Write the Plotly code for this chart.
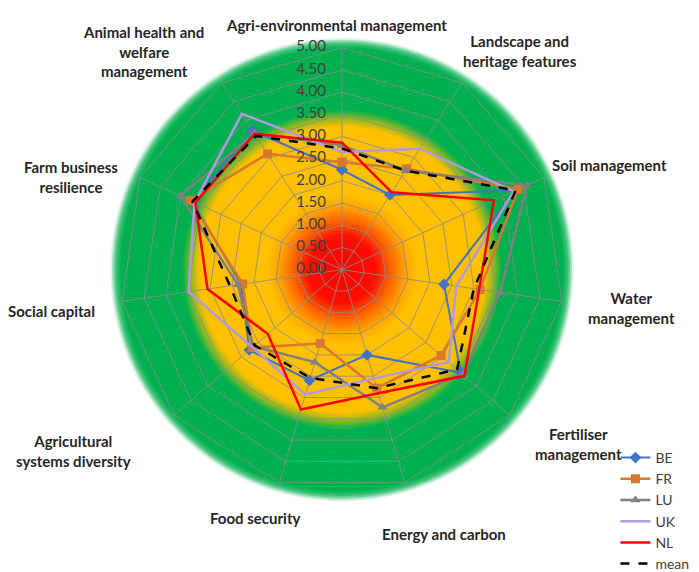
import plotly.graph_objects as go

categories = ["Agri-environmental management", "Landscape and heritage features", "Soil management",
              "Water management", "Fertiliser management", "Energy and carbon", "Food security",
              "Agricultural systems diversity", "Social capital", "Farm business resilience",
              "Animal health and welfare management"]
be = [2.25, 2.00, 4.30, 2.32, 3.54, 2.00, 2.60, 2.76, 2.30, 3.70, 3.72]
fr = [2.42, 2.70, 4.36, 3.14, 2.95, 2.78, 1.73, 2.68, 2.26, 3.76, 3.10]
lu = [2.80, 2.65, 4.58, 3.60, 3.60, 3.23, 2.17, 2.64, 2.37, 4.00, 3.65]
uk = [2.65, 3.24, 4.25, 2.60, 3.18, 2.55, 2.93, 2.67, 3.49, 3.65, 4.17]
nl = [2.86, 2.07, 3.76, 3.12, 3.65, 2.90, 3.28, 2.21, 3.06, 3.63, 3.64]
mean = [2.73, 2.65, 4.30, 3.00, 3.43, 2.78, 2.54, 2.60, 2.55, 3.70, 3.58]
radial_ticks = [0, 0.5, 1, 1.5, 2, 2.5, 3, 3.5, 4, 4.5, 5]

# category label text as displayed
label_text = ["Agri-environmental management", "Landscape and<br>heritage features", "Soil management",
              "Water<br>management", "Fertiliser<br>management", "Energy and carbon", "Food security",
              "Agricultural<br>systems diversity", "Social capital", "Farm business<br>resilience",
              "Animal health and<br>welfare<br>management"]
label_pos = [(328, 17), (512, 43), (601, 158), (623, 303), (570, 440), (436, 531), (247, 514),
             (65, 447), (43, 306), (63, 170), (135, 44)]

W, H = 699, 572
CX, CY, R5 = 334, 264, 224
RMAX_BG = 5.22
FONT = "Lato, 'Open Sans', Arial, sans-serif"


def px(x):
    return x / W


def py(y):
    return 1 - y / H


# gradient background colour stops (style only)
stops = [(0.0, (255, 0, 0)), (0.75, (255, 12, 0)), (1.1, (255, 100, 0)), (1.45, (255, 168, 0)),
         (1.7, (255, 192, 0)), (3.22, (255, 192, 0)), (3.4, (150, 185, 30)), (3.6, (0, 176, 80)),
         (4.98, (0, 176, 80)), (5.1, (70, 195, 125)), (5.22, (255, 255, 255))]


def col(r):
    for (r0, c0), (r1, c1) in zip(stops[:-1], stops[1:]):
        if r0 <= r <= r1:
            t = (r - r0) / (r1 - r0) if r1 > r0 else 0
            return "rgb(%d,%d,%d)" % tuple(round(a + (b - a) * t) for a, b in zip(c0, c1))
    return "rgb(255,255,255)"


n = 130
dr = RMAX_BG / n
ring_base = [i * dr for i in range(n)]
ring_col = [col(b + dr / 2) for b in ring_base]

fig = go.Figure()
fig.add_trace(go.Barpolar(r=[dr * 1.4] * n, base=ring_base, theta=[180] * n, width=[360] * n,
                          marker=dict(color=ring_col, line=dict(width=0)),
                          hoverinfo="skip", showlegend=False, subplot="polar"))


def closed(v):
    return v + v[:1]


theta = closed(categories)
common = dict(subplot="polar2")
fig.add_trace(go.Scatterpolar(r=closed(be), theta=theta, name="BE", mode="lines+markers",
                              line=dict(color="#4472C4", width=2),
                              marker=dict(symbol="diamond", size=9, color="#4472C4"), **common))
fig.add_trace(go.Scatterpolar(r=closed(fr), theta=theta, name="FR", mode="lines+markers",
                              line=dict(color="#D9782F", width=2.5),
                              marker=dict(symbol="square", size=9, color="#D9782F"), **common))
fig.add_trace(go.Scatterpolar(r=closed(lu), theta=theta, name="LU", mode="lines+markers",
                              line=dict(color="#808080", width=2.5),
                              marker=dict(symbol="triangle-up", size=9, color="#808080"), **common))
fig.add_trace(go.Scatterpolar(r=closed(uk), theta=theta, name="UK", mode="lines",
                              line=dict(color="#B09BDC", width=2.5), **common))
fig.add_trace(go.Scatterpolar(r=closed(nl), theta=theta, name="NL", mode="lines",
                              line=dict(color="#FF0000", width=2.5), **common))
fig.add_trace(go.Scatterpolar(r=closed(mean), theta=theta, name="mean", mode="lines",
                              line=dict(color="#000000", width=2.5, dash="dash"), **common))
# radial tick labels, drawn on the first axis (tiny offset so the 0 label is kept)
tick_r = [max(v, 0.001) for v in radial_ticks]
fig.add_trace(go.Scatterpolar(r=tick_r, theta=[categories[0]] * len(radial_ticks),
                              mode="markers+text", text=["%.2f" % v for v in radial_ticks],
                              textposition="middle left",
                              textfont=dict(family=FONT, size=15, color="#404040"),
                              marker=dict(size=24, color="rgba(0,0,0,0)"),
                              cliponaxis=False, hoverinfo="skip", showlegend=False, **common))

annotations = []
for t, (x, y) in zip(label_text, label_pos):
    annotations.append(dict(text="<b>%s</b>" % t, x=px(x), y=py(y), xref="paper", yref="paper",
                            showarrow=False, xanchor="center", yanchor="middle",
                            font=dict(family=FONT, size=15, color="#262626")))

RBG = RMAX_BG * R5 / 5
grid = "rgba(140,140,140,0.85)"
fig.update_layout(
    width=W, height=H, margin=dict(l=0, r=0, t=0, b=0),
    paper_bgcolor="white", plot_bgcolor="white",
    annotations=annotations,
    polar=dict(
        domain=dict(x=[px(CX - RBG), px(CX + RBG)], y=[py(CY + RBG), py(CY - RBG)]),
        bgcolor="rgba(0,0,0,0)", barmode="overlay",
        radialaxis=dict(range=[0, RMAX_BG], visible=False),
        angularaxis=dict(type="linear", visible=False, rotation=90, direction="clockwise"),
    ),
    polar2=dict(
        domain=dict(x=[px(CX - R5), px(CX + R5)], y=[py(CY + R5), py(CY - R5)]),
        bgcolor="rgba(0,0,0,0)",
        gridshape="linear",
        radialaxis=dict(range=[0, 5], tickvals=radial_ticks, showticklabels=False,
                        gridcolor=grid, gridwidth=1, showline=False, ticks="", angle=90),
        angularaxis=dict(rotation=90, direction="clockwise", showticklabels=False, ticks="",
                         gridcolor=grid, gridwidth=1,
                         showline=True, linecolor=grid, linewidth=1),
    ),
    legend=dict(x=0.869, y=py(438), xanchor="left", yanchor="top", bgcolor="rgba(0,0,0,0)",
                font=dict(family=FONT, size=14, color="#404040"), tracegroupgap=0),
    showlegend=True,
)

fig.write_html("out.html")
